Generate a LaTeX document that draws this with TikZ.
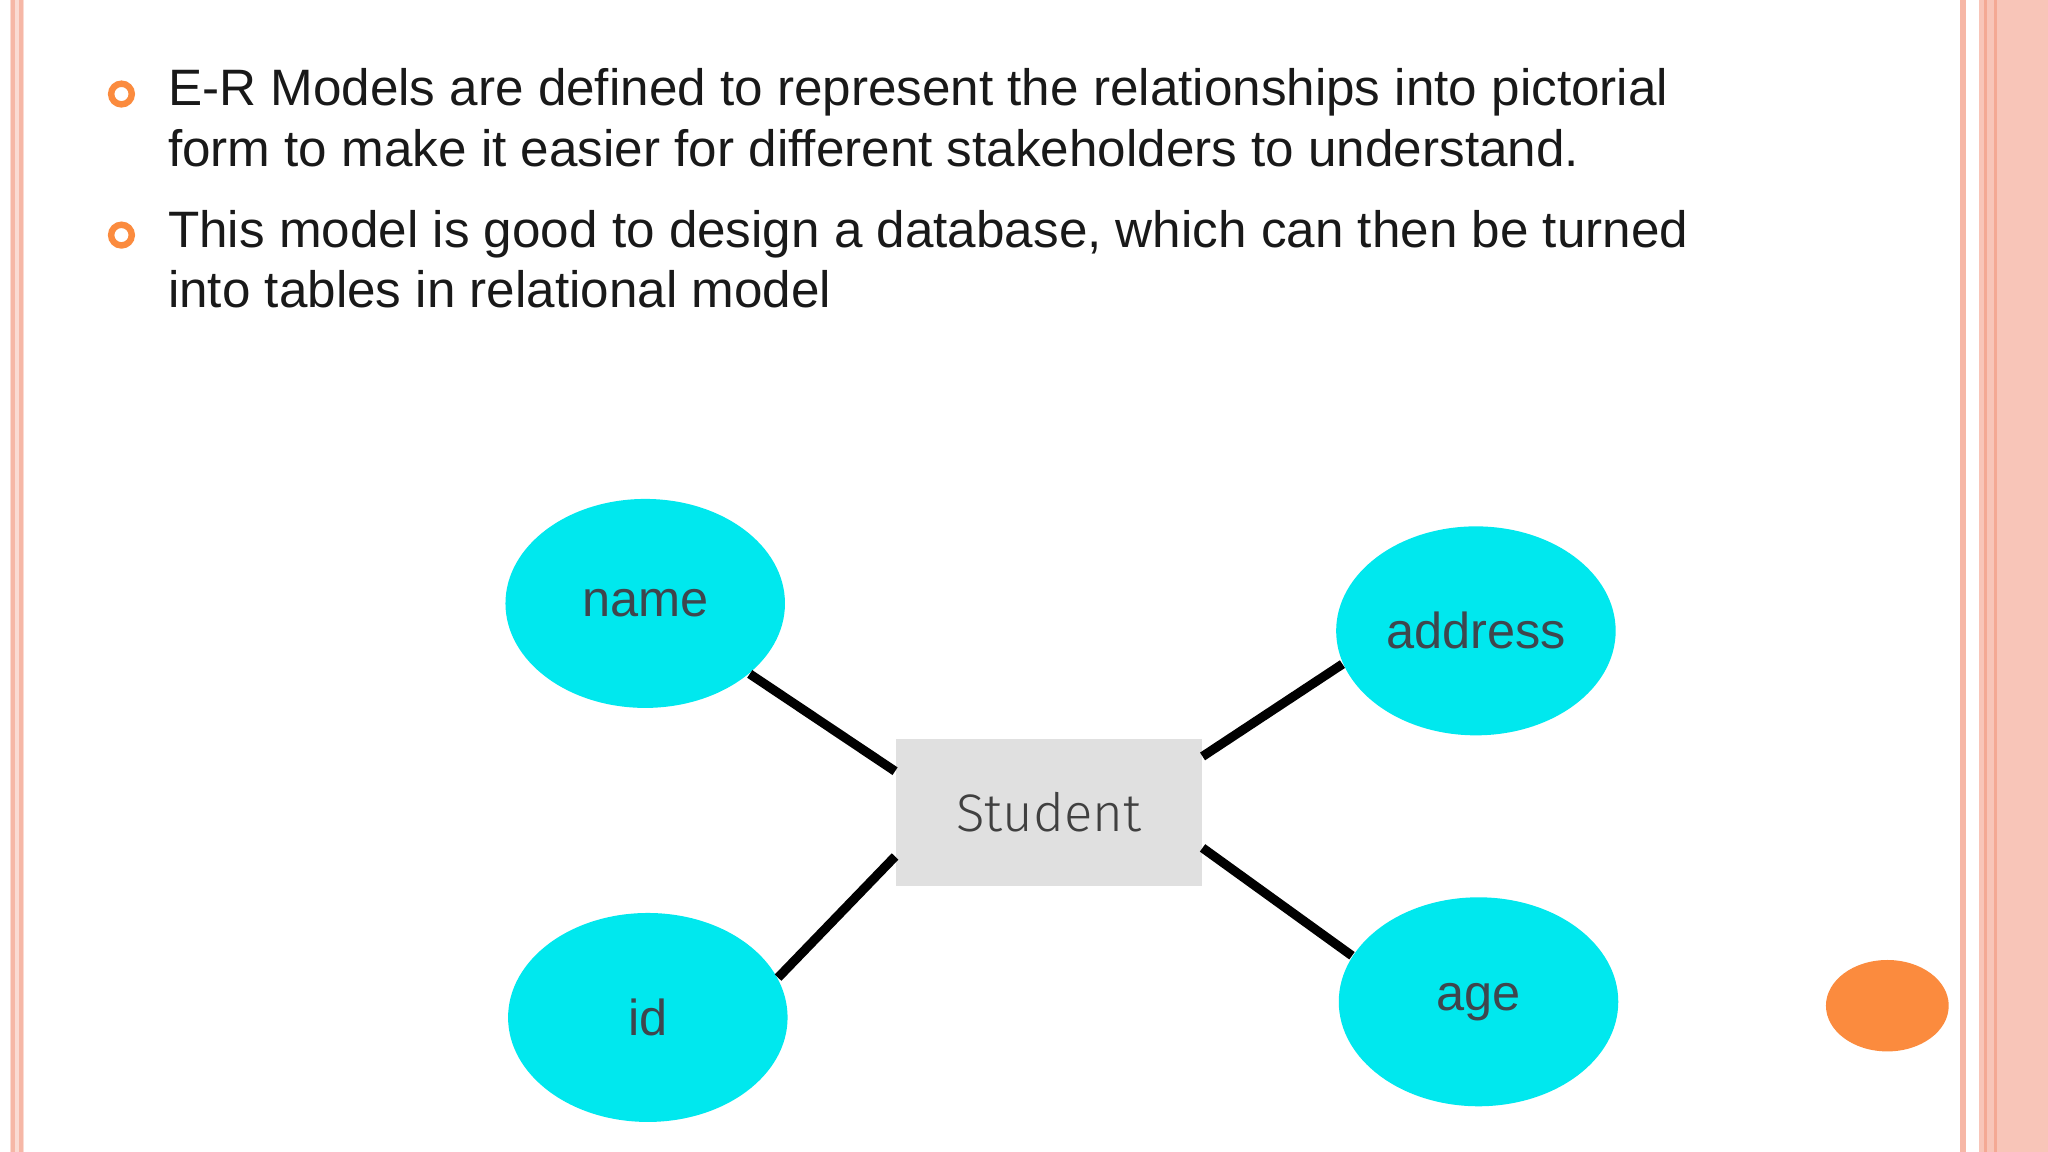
\documentclass[tikz,border=0pt]{standalone}
\usepackage{fontspec}
\setmainfont{Liberation Sans}
\newfontfamily\stfont{Fira Sans Light}
\usetikzlibrary{shapes.geometric}
\definecolor{cy}{HTML}{00E8EE}
\definecolor{pk}{HTML}{F6B7A6}
\definecolor{org}{HTML}{FB8B3E}
\newlength\pxu \setlength\pxu{0.01cm}
\tikzset{attr/.style={ellipse,fill=cy,minimum width=214\pxu,minimum height=160\pxu,inner sep=0pt,text=black!80!cyan,font=\fontsize{11}{13}\selectfont},
conn/.style={line width=2pt,black},
bullet/.style={circle,draw=org,line width=1.4pt,minimum size=4.5pt,inner sep=0pt},
btext/.style={anchor=north west,align=left,font=\fontsize{11.15}{13.1}\selectfont,text=black!90,inner sep=0pt}}
\begin{document}
\begin{tikzpicture}[x=0.01cm,y=-0.01cm]
\useasboundingbox (0,0) rectangle (1568,882);
\fill[white] (0,0) rectangle (1568,882);
% borders
\fill[pk!50] (8,0) rectangle (18,882);
\draw[pk,line width=0.8pt] (10,0) -- (10,882);
\draw[pk,line width=0.8pt] (16,0) -- (16,882);
\draw[pk,line width=1.2pt] (1503,0) -- (1503,882);
\fill[pk!80] (1515,0) rectangle (1568,882);
\draw[pk!120,line width=0.6pt] (1520,0) -- (1520,882);
\draw[pk!120,line width=0.6pt] (1528,0) -- (1528,882);
% bullets
\node[bullet] (b1) at (93,72) {};
\node[bullet] (b2) at (93,180) {};
\node[btext] (t1) at (128,52) {E-R Models are defined to represent the relationships into pictorial\\form to make it easier for different stakeholders to understand.};
\node[btext] (t2) at (128,160) {This model is good to design a database, which can then be turned\\into tables in relational model};
% diagram
\node[attr] (name) at (494,462) {name};
\node[attr] (addr) at (1130,483) {address};
\node[attr] (id) at (496,779) {id};
\node[attr] (age) at (1132,767) {age};
\node[fill=black!12,minimum width=234\pxu,minimum height=113\pxu,font=\stfont\fontsize{11.5}{13}\selectfont,text=black!75] (st) at (803,622) {Student};
\draw[conn] (name.-34) -- (st.165);
\draw[conn] (addr.194) -- (st.20);
\draw[conn] (id.17) -- (st.196);
\draw[conn] (age.160) -- (st.-13);
\node[ellipse,fill=org,minimum width=94\pxu,minimum height=70\pxu] (dot) at (1445,770) {};
\end{tikzpicture}
\end{document}
